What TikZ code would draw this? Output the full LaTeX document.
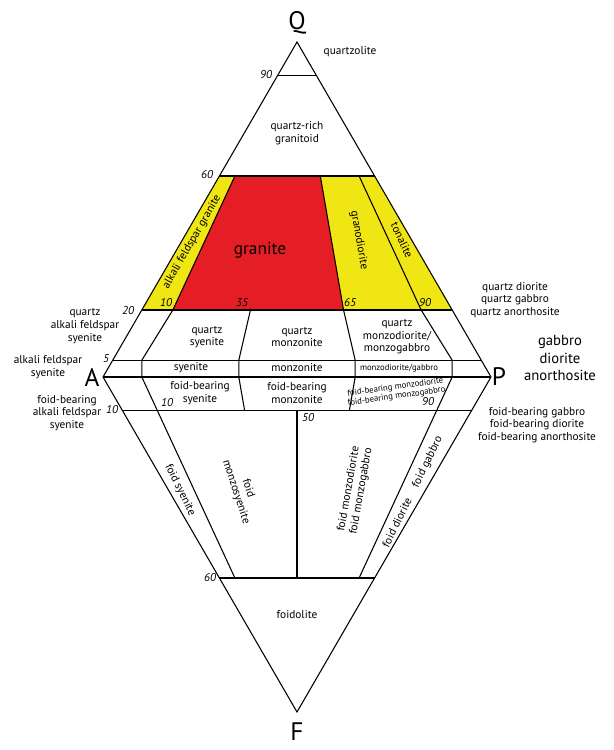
\documentclass[tikz,border=0pt]{standalone}
\usepackage{fontspec}
\setmainfont{PT Sans}
\usetikzlibrary{calc}
\definecolor{fieldyellow}{RGB}{240,230,20}
\definecolor{fieldred}{RGB}{228,30,36}
\tikzset{  lbl/.style={align=center,font=\fontsize{8.5}{9.5}\selectfont,inner sep=1pt},
  sml/.style={align=center,font=\fontsize{6.5}{7}\selectfont,inner sep=0pt},
  num/.style={font=\fontsize{8.5}{10}\selectfont\itshape,inner sep=1pt},
  apex/.style={font=\fontsize{19}{20}\selectfont,inner sep=0pt} }
\begin{document}
\begin{tikzpicture}[x=0.75pt,y=-0.75pt,line join=miter,line width=0.8pt]
  \path[use as bounding box] (0,0) rectangle (614,750);
  \coordinate (Q) at (297,42);
  \coordinate (A) at (103,377);
  \coordinate (P) at (491,377);
  \coordinate (F) at (297,712);
  % levels on the edges
  \foreach \q/\n in {0.9/90,0.6/60,0.2/20,0.05/5} {
    \coordinate (ql\n) at ($(A)!\q!(Q)$);
    \coordinate (qr\n) at ($(P)!\q!(Q)$);
  }
  \foreach \f/\n in {0.1/10,0.6/60} {
    \coordinate (fl\n) at ($(A)!\f!(F)$);
    \coordinate (fr\n) at ($(P)!\f!(F)$);
  }
  % division points
  \foreach \r in {10,35,65,90} {
    \coordinate (t\r) at ($(ql60)!\r/100!(qr60)$);
    \coordinate (m\r) at ($(ql20)!\r/100!(qr20)$);
    \coordinate (b\r) at ($(A)!\r/100!(P)$);
    \coordinate (k\r) at (b\r |- ql5);
  }
  \foreach \r in {10,35,50,65,90} {
    \coordinate (f\r) at ($(fl10)!\r/100!(fr10)$);
    \coordinate (g\r) at ($(fl60)!\r/100!(fr60)$);
  }
  % coloured fields
  \fill[fieldyellow] (ql60) -- (t10) -- (m10) -- (ql20) -- cycle;
  \fill[fieldyellow] (t65) -- (qr60) -- (qr20) -- (m65) -- cycle;
  \fill[fieldred] (t10) -- (t65) -- (m65) -- (m10) -- cycle;
  % lines
  \draw (ql90) -- (qr90);
  \draw (ql60) -- (qr60);
  \draw (ql20) -- (qr20);
  \draw (ql5) -- (qr5);
  \draw (A) -- (P);
  \draw (fl10) -- (fr10);
  \draw (fl60) -- (fr60);
  \foreach \r in {10,65,90}
    \draw (t\r) -- (m\r);
  \foreach \r in {10,35,65,90}
    \draw (m\r) -- (k\r) -- (b\r) -- (f\r);
  \draw (f10) -- (g10);
  \draw (f50) -- (g50);
  \draw (f90) -- (g90);
  \draw (Q) -- (A) -- (F) -- (P) -- cycle;
  % corners
  \node[apex] (lQ) at (297,23) {Q};
  \node[apex] (lA) at (92,377) {A};
  \node[apex] (lP) at (499,377) {P};
  \node[apex] (lF) at (297,732) {F};
  % numbers
  \node[num] (n90) at (266,75) {90};
  \node[num] (n60) at (207,175) {60};
  \node[num] (n20) at (128,311) {20};
  \node[num] (n5) at (106,359) {5};
  \node[num] (nf10) at (112,410) {10};
  \node[num] (nf60) at (210,578) {60};
  \node[num] (r10) at (166,303) {10};
  \node[num] (r35) at (242,303) {35};
  \node[num] (r65) at (350,303) {65};
  \node[num] (r90) at (425,303) {90};
  \node[num] (s10) at (167,403) {10};
  \node[num] (s50) at (308,418) {50};
  \node[num] (s90) at (428,402) {90};
  % fields
  \node[lbl] (qtz) at (350,52) {quartzolite};
  \node[lbl] (qrg) at (297,133) {quartz-rich\\granitoid};
  \node[lbl,rotate=60] (afg) at (192,242) {alkali feldspar granite};
  \node[lbl,font=\fontsize{13}{14}\selectfont] (gra) at (260,250) {granite};
  \node[lbl,rotate=-80] (grd) at (359,240) {granodiorite};
  \node[lbl,rotate=-65] (ton) at (402,240) {tonalite};
  \node[lbl] (qsy) at (207,337) {quartz\\syenite};
  \node[lbl] (qmz) at (297,337) {quartz\\monzonite};
  \node[lbl] (qmd) at (397,337) {quartz\\monzodiorite/\\monzogabbro};
  \node[lbl] (sye) at (191,368) {syenite};
  \node[lbl] (mzn) at (297,368) {monzonite};
  \node[sml] (mzd) at (399,368) {monzodiorite/gabbro};
  \node[lbl] (fsy) at (200,393) {foid-bearing\\syenite};
  \node[lbl] (fmz) at (297,393) {foid-bearing\\monzonite};
  \node[sml,rotate=8] (fmd) at (396,392) {foid-bearing monzodiorite\\foid-bearing monzogabbro};
  \node[lbl,rotate=-64] (fs) at (180,490) {foid syenite};
  \node[lbl,rotate=-72] (fms) at (242,490) {foid\\monzosyenite};
  \node[lbl,rotate=80] (fmg) at (355,490) {foid monzodiorite\\foid monzogabbro};
  \node[lbl,rotate=64] (fdg) at (413,492) {foid diorite\hspace{1.2em}foid gabbro};
  \node[lbl] (fdl) at (297,615) {foidolite};
  % outside
  \node[lbl] (qas) at (85,326) {quartz\\alkali feldspar\\syenite};
  \node[lbl] (as) at (48,367) {alkali feldspar\\syenite};
  \node[lbl] (fas) at (67,413) {foid-bearing\\alkali feldspar\\syenite};
  \node[lbl] (qdg) at (515,300) {quartz diorite\\quartz gabbro\\quartz anorthosite};
  \node[lbl,font=\fontsize{11}{13}\selectfont] (gda) at (560,358) {gabbro\\diorite\\anorthosite};
  \node[lbl] (fdga) at (537,425) {foid-bearing gabbro\\foid-bearing diorite\\foid-bearing anorthosite};
\end{tikzpicture}
\end{document}
